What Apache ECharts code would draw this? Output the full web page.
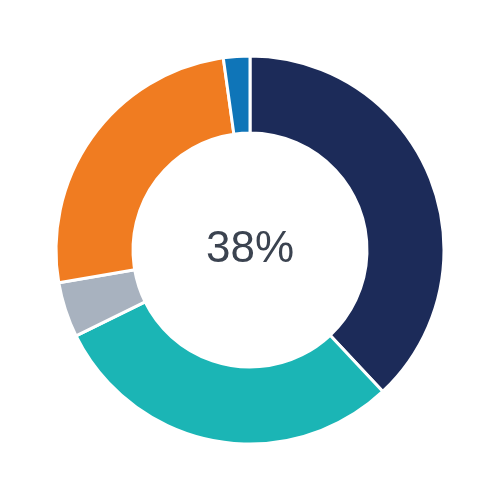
<!DOCTYPE html>
<html>
<head>
<meta charset="UTF-8">
<title></title>
<style type="text/css">
	html, body, #main { margin: 0; padding: 0; width: 100%; height: 100%; background: #fff; overflow: hidden; }
</style>
</head>
<body>
<div id="main"></div>
<script type="text/javascript" src="https://cdn.jsdelivr.net/npm/echarts@6/dist/echarts.min.js"></script>
<script type="text/javascript">
	// slices, clockwise from 12 o'clock
	var names = ['A', 'B', 'C', 'D', 'E'];
	var values = [38, 29.7, 4.6, 25.5, 2.2];
	var colors = ['#1c2b59', '#1bb5b5', '#a8b2bf', '#f07c21', '#0f75b8'];
	var centerLabel = '38%';

	var chart = echarts.init(document.getElementById('main'));
	chart.setOption({
		animation: false,
		title: {
			text: centerLabel,
			left: 'center',
			top: 'middle',
			textStyle: { fontSize: 44, fontWeight: 'normal', color: '#3b4350', fontFamily: 'Liberation Sans, Arial, sans-serif' }
		},
		series: [{
			type: 'pie',
			radius: [117, 194],
			center: [250, 250],
			startAngle: 90,
			clockwise: true,
			label: { show: false },
			labelLine: { show: false },
			itemStyle: { borderColor: '#fff', borderWidth: 3 },
			data: names.map(function (n, i) {
				return { name: n, value: values[i], itemStyle: { color: colors[i] } };
			})
		}]
	});
</script>
</body>
</html>
